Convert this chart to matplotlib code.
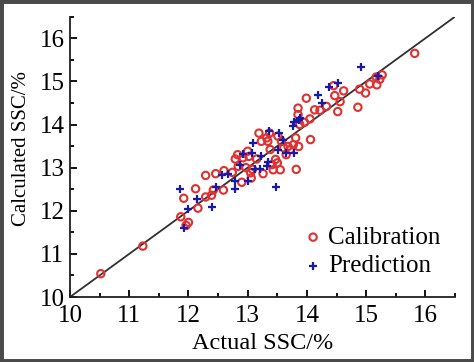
import matplotlib
matplotlib.use("Agg")
import matplotlib.pyplot as plt
from matplotlib.patches import Rectangle
from matplotlib.ticker import MultipleLocator

plt.rcParams['font.family'] = ['Liberation Serif', 'DejaVu Serif']

cal_actual = [10.52, 11.23, 11.87, 11.96, 12.00, 11.92, 12.12, 12.16, 12.29, 12.39,
              12.42, 12.59, 12.46, 12.60, 12.74, 12.79, 12.83, 12.90, 12.92, 13.00,
              13.02, 13.06, 13.08, 13.15, 13.19, 13.23, 13.26, 13.32, 13.34, 13.37,
              13.38, 13.41, 13.43, 13.47, 13.50, 13.51, 13.55, 13.57, 13.61, 13.65,
              13.68, 13.72, 13.77, 13.81, 13.82, 13.85, 13.85, 13.86, 13.88, 13.96,
              14.05, 14.06, 13.99, 14.13, 14.22, 14.33, 14.52, 14.56, 14.62, 14.45,
              14.47, 14.86, 14.89, 14.99, 15.06, 15.18, 15.23, 15.27, 15.82, 15.17,
              12.29, 12.97, 13.05, 12.84]
cal_calc = [10.54, 11.18, 11.86, 11.66, 11.73, 12.29, 12.51, 12.06, 12.32, 12.36,
            12.48, 12.48, 12.86, 12.93, 12.89, 13.20, 13.30, 12.66, 13.23, 13.38,
            13.26, 12.76, 12.96, 13.20, 13.80, 13.61, 12.86, 13.69, 13.61, 13.80,
            13.42, 13.07, 12.95, 13.19, 13.11, 13.73, 12.95, 13.61, 13.46, 13.30,
            13.49, 13.42, 13.53, 13.69, 12.96, 14.38, 14.23, 13.49, 14.00, 14.05,
            14.13, 13.65, 14.61, 14.34, 14.33, 14.42, 14.30, 14.53, 14.78, 14.90,
            14.67, 14.40, 14.82, 14.73, 14.94, 14.92, 15.05, 15.15, 15.65, 15.10,
            12.82, 13.00, 12.88, 13.03]

pred_actual = [11.85, 11.92, 11.99, 12.15, 12.39, 12.47, 12.56, 12.78, 12.79, 12.87,
               13.00, 13.09, 13.08, 13.12, 13.20, 13.23, 13.32, 13.34, 13.36, 13.47,
               13.51, 13.60, 13.65, 13.79, 13.79, 13.87, 13.77, 13.88, 14.19, 14.26,
               14.37, 14.52, 14.92, 15.20, 12.92, 12.66, 13.53]
pred_calc = [12.51, 11.59, 12.05, 12.28, 12.09, 12.56, 12.84, 12.51, 12.69, 13.07,
             12.69, 13.57, 13.34, 12.96, 12.96, 13.26, 13.03, 13.12, 13.86, 12.56,
             13.42, 13.65, 13.34, 13.33, 14.05, 14.11, 13.96, 14.16, 14.69, 14.50,
             14.87, 14.96, 15.34, 15.13, 13.32, 12.86, 13.80]

xlim = (10, 16.5)
ylim = (10, 16.5)

fig = plt.figure(figsize=(4.74, 3.62), dpi=100)
ax = fig.add_axes([70/474, 1 - 297/362, 385/474, (297 - 16.7)/362])

ax.plot([xlim[0], xlim[1]], [ylim[0], ylim[1]], color='#303030', lw=1.3, zorder=1)
ax.scatter(cal_actual, cal_calc, s=28, facecolors='none', edgecolors='#e0302f',
           linewidths=1.5, label='Calibration', zorder=2)
ax.scatter(pred_actual, pred_calc, s=40, marker='+', color='#1a1aa8',
           linewidths=1.6, label='Prediction', zorder=3)

ax.set_xlim(*xlim)
ax.set_ylim(*ylim)
ax.xaxis.set_major_locator(MultipleLocator(1))
ax.xaxis.set_minor_locator(MultipleLocator(0.5))
ax.yaxis.set_major_locator(MultipleLocator(1))
ax.yaxis.set_minor_locator(MultipleLocator(0.5))
for s in ['top', 'right']:
    ax.spines[s].set_visible(False)
for s in ['left', 'bottom']:
    ax.spines[s].set_linewidth(1.3)
    ax.spines[s].set_color('#202020')
ax.tick_params(which='major', direction='in', length=5, width=1.3, labelsize=18)
ax.tick_params(axis='x', which='major', pad=6)
ax.tick_params(axis='y', which='major', pad=4)
ax.tick_params(which='minor', direction='in', length=3, width=1.3)

ax.set_xlabel('Actual SSC/%', fontsize=17.5)
ax.set_ylabel('Calculated SSC/%', fontsize=15)
ax.xaxis.set_label_coords(0.5, -0.13)
ax.yaxis.set_label_coords(-0.101, 0.53)

leg = ax.legend(loc='upper left', bbox_to_anchor=(0.56, 0.315), frameon=False,
                fontsize=18, handletextpad=0.2, borderpad=0.2, labelspacing=0.25,
                handlelength=0.8)

fig.add_artist(Rectangle((0, 0), 1, 1, transform=fig.transFigure, fill=False,
                         edgecolor='#4a4a4a', linewidth=5))

fig.savefig('out.png', dpi=100)
